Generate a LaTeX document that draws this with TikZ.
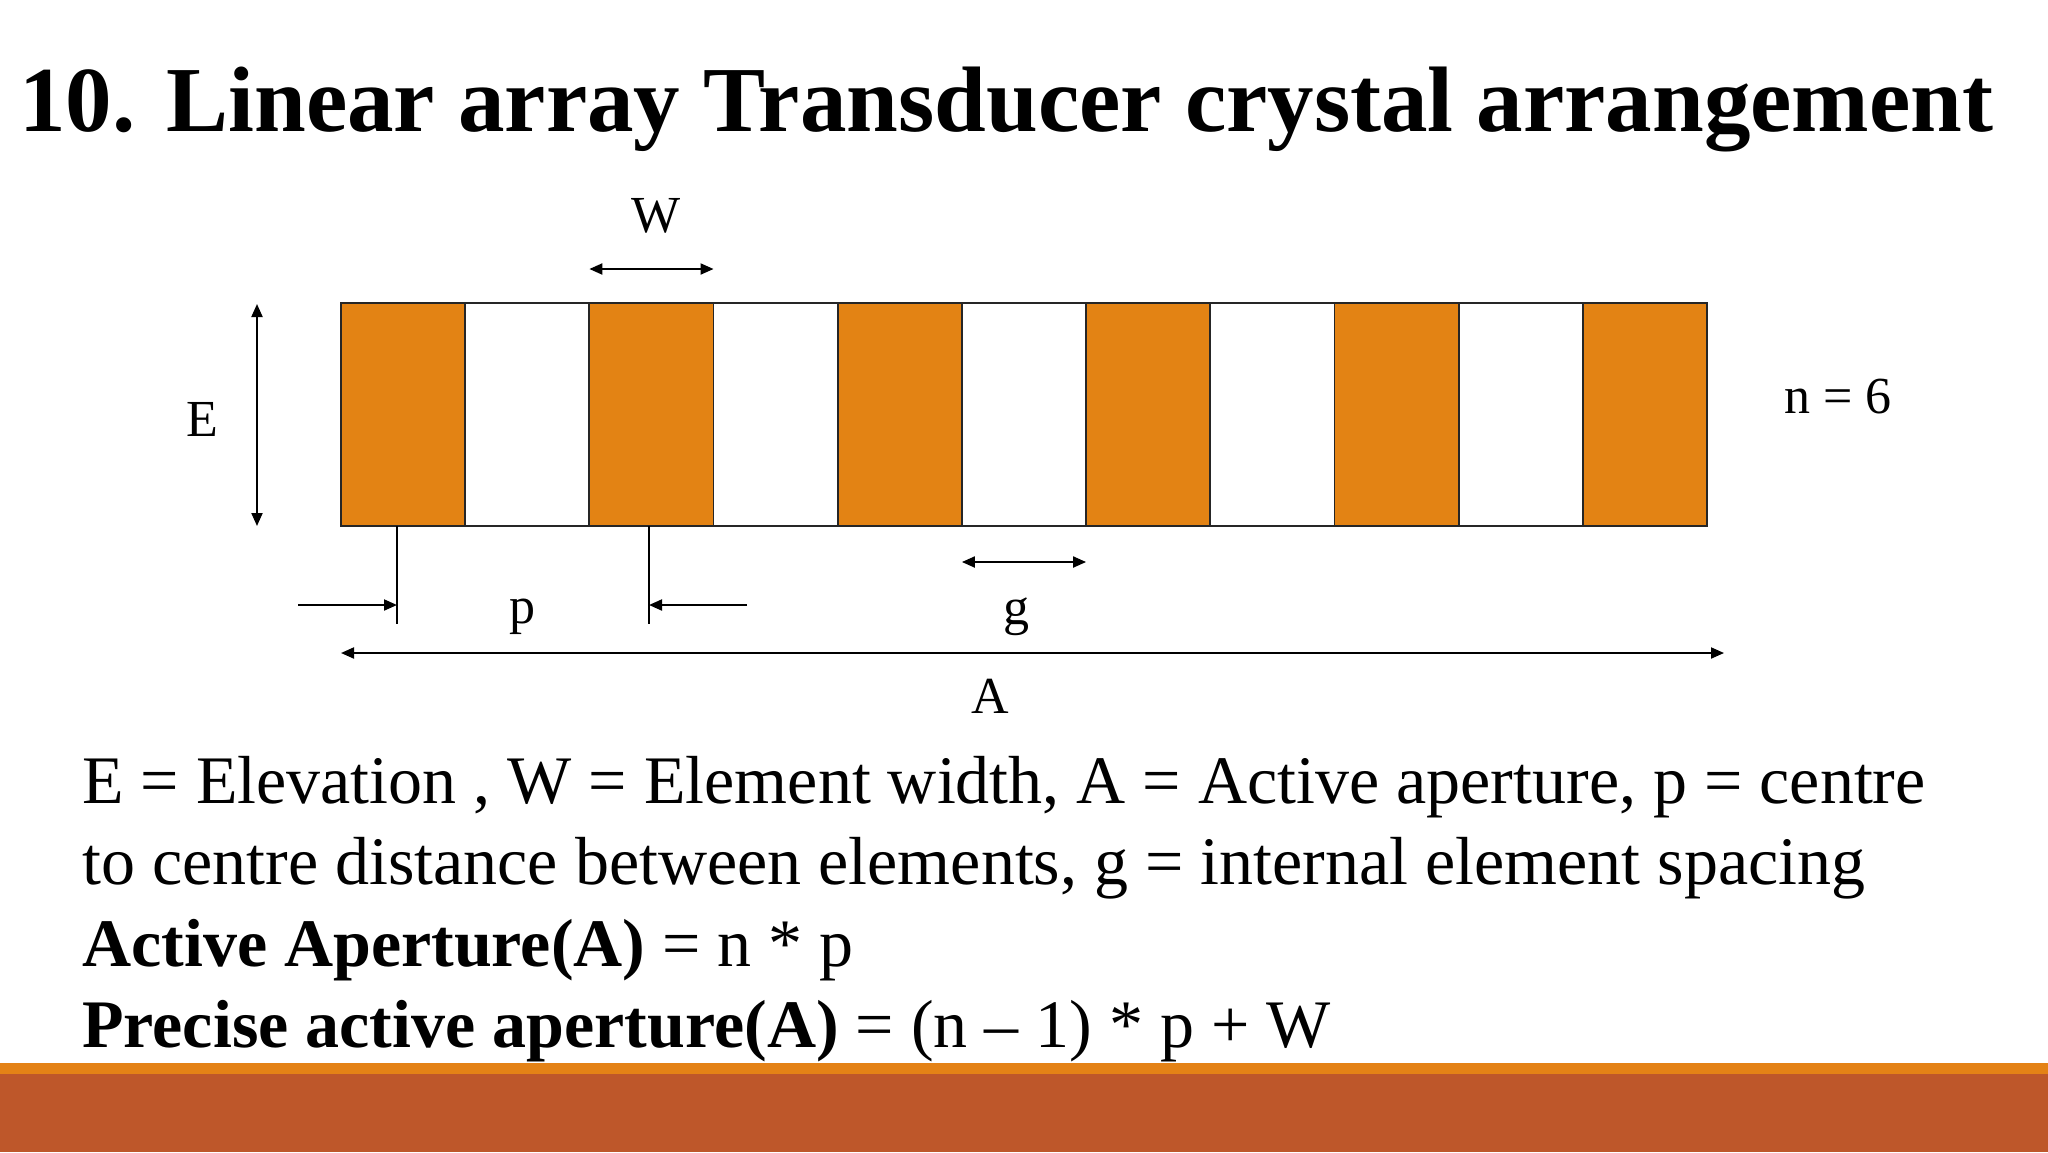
\documentclass[tikz,border=0pt]{standalone}
\usepackage{fontspec}
\setmainfont{Liberation Serif}
\usetikzlibrary{arrows.meta}
\definecolor{cellorange}{RGB}{227,131,20}
\definecolor{bandorange}{RGB}{228,130,22}
\definecolor{bardark}{RGB}{190,87,42}
\begin{document}
\begin{tikzpicture}[x=1pt,y=-1pt,
  cellbox/.style={draw=black!85,line width=1.8pt,inner sep=0pt,outer sep=0pt,
    minimum width=124.18pt,minimum height=223pt,anchor=north west},
  dim/.style={line width=2pt,{Triangle[length=13pt,width=11pt]}-{Triangle[length=13pt,width=11pt]}},
  onearrow/.style={line width=2pt,-{Triangle[length=13pt,width=11pt]}},
  tick/.style={line width=2pt},
  lbl/.style={font=\fontsize{52}{60}\selectfont,inner sep=0pt,anchor=base},
  body/.style={font=\fontsize{68}{81}\selectfont,inner sep=0pt,anchor=base west}]
\useasboundingbox (0,0) rectangle (2048,1152);
\fill[white] (0,0) rectangle (2048,1152);
% title
\node[inner sep=0pt,anchor=base west,font=\fontsize{93}{100}\selectfont\bfseries] (title) at (19,131)
  {10. Linear array Transducer crystal arrangement};
% cells
\foreach \i in {0,...,10} {
  \ifodd\i \def\cellfill{white}\else\def\cellfill{cellorange}\fi
  \node[cellbox,fill=\cellfill] (c\i) at ({341+124.18*\i},303) {};
}
% W
\draw[dim] ([yshift=34pt]c2.north west) -- ([yshift=34pt]c2.north east);
\node[lbl] (wl) at (656,232) {W};
% E
\coordinate (eT) at (257,304);
\coordinate (eB) at (257,526);
\draw[dim] (eT) -- (eB);
\node[lbl] (el) at (202,436) {E};
% n
\node[lbl] (nl) at (1838,413) {n = 6};
% p
\coordinate (p1t) at (397,526);
\coordinate (p1b) at (397,624);
\coordinate (p2t) at (649,526);
\coordinate (p2b) at (649,624);
\draw[tick] (p1t) -- (p1b);
\draw[tick] (p2t) -- (p2b);
\coordinate (pa1) at (298,605);
\coordinate (pa1e) at (397,605);
\coordinate (pa2) at (747,605);
\coordinate (pa2e) at (649,605);
\draw[onearrow] (pa1) -- (pa1e);
\draw[onearrow] (pa2) -- (pa2e);
\node[lbl] (pl) at (522,623) {p};
% g
\draw[dim] ([yshift=-36pt]c5.south west) -- ([yshift=-36pt]c5.south east);
\node[lbl] (gl) at (1016,624) {g};
% A
\coordinate (aL) at (341,653);
\coordinate (aR) at (1724,653);
\draw[dim] (aL) -- (aR);
\node[lbl] (al) at (990,713) {A};
% body text
\node[body] (t1) at (82,803) {E = Elevation , W = Element width, A = Active aperture, p = centre};
\node[body] (t2) at (82,884) {to centre distance between elements, g = internal element spacing};
\node[body] (t3) at (82,966) {\textbf{Active Aperture(A)} = n * p};
\node[body] (t4) at (82,1047) {\textbf{Precise active aperture(A)} = (n – 1) * p + W};
% bottom bands
\fill[bandorange] (0,1063) rectangle (2048,1074);
\fill[bardark] (0,1074) rectangle (2048,1152);
\end{tikzpicture}
\end{document}
